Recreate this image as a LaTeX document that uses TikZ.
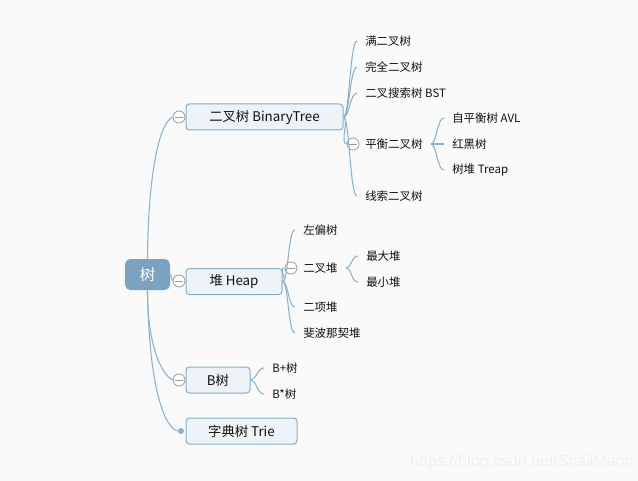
\documentclass[tikz,border=0pt]{standalone}
\usepackage{fontspec}
\setmainfont{Noto Sans CJK SC}
\newfontfamily\wmfont{Liberation Sans}
\usetikzlibrary{calc}
\definecolor{bgc}{HTML}{FAFAFA}
\definecolor{rootc}{HTML}{7BA3C1}
\definecolor{boxline}{HTML}{86AECB}
\definecolor{boxfill}{HTML}{EEF3F7}
\definecolor{linec}{HTML}{8DB2CC}
\definecolor{foldc}{HTML}{9A9A9A}
\definecolor{textc}{HTML}{111111}
\definecolor{wmc}{HTML}{EFEFEF}
\tikzset{
  mainbox/.style={draw=boxline, fill=boxfill, rounded corners=2.5pt, minimum height=19.5pt,
    font=\fontsize{10}{12}\selectfont, text=textc, inner sep=0pt, line width=0.75pt},
  rootbox/.style={fill=rootc, rounded corners=4pt, minimum width=33.75pt, minimum height=23.25pt,
    text=white, font=\fontsize{11.5}{13}\selectfont, inner sep=0pt},
  leaf/.style={anchor=west, inner xsep=6pt, inner ysep=1pt, font=\fontsize{8.6}{10}\selectfont, text=textc},
  conn/.style={draw=linec, line width=0.8pt},
  brc/.style={to path={.. controls ($(\tikztostart)+(6,0)$) and ($(\tikztotarget)+(-7,0)$) .. (\tikztotarget)}},
  foldbtn/.style={circle, draw=foldc, fill=white, minimum size=9pt, inner sep=0pt, line width=0.6pt,
    path picture={\draw[foldc, line width=0.6pt]
      ($(path picture bounding box.west)+(1.8pt,0)$) -- ($(path picture bounding box.east)+(-1.8pt,0)$);}},
  enddot/.style={circle, fill=linec, minimum size=4.5pt, inner sep=0pt}
}
\begin{document}
\begin{tikzpicture}[x=0.75pt,y=-0.75pt]
\fill[bgc] (0,0) rectangle (638,481);
\useasboundingbox (0,0) rectangle (638,481);

% main nodes
\node[rootbox] (root) at (147.5,274.5) {树};
\node[mainbox, minimum width=117.75pt] (bt) at (264.5,117) {二叉树 BinaryTree};
\node[mainbox, minimum width=72pt] (heap) at (234,281.5) {堆 Heap};
\node[mainbox, minimum width=48pt] (bn) at (218,380) {B树};
\node[mainbox, minimum width=83.25pt] (trie) at (241.5,431) {字典树 Trie};

% fold buttons
\node[foldbtn] (fbt) at (179,117) {};
\node[foldbtn] (fheap) at (179,281) {};
\node[foldbtn] (fbn) at (179,380) {};
\node[enddot] (dtrie) at (181,431) {};

% binary tree leaves
\node[leaf] (full) at (357,41) {满二叉树};
\node[leaf] (comp) at (357,67) {完全二叉树};
\node[leaf] (bst) at (357,93) {二叉搜索树 BST};
\node[leaf] (bal) at (357,144) {平衡二叉树};
\node[foldbtn] (fbal) at (353,144) {};
\node[leaf] (thr) at (357,196) {线索二叉树};
\node[leaf] (avl) at (444,118) {自平衡树 AVL};
\node[leaf] (rb) at (444,144) {红黑树};
\node[leaf] (treap) at (444,170) {树堆 Treap};

% heap leaves
\node[leaf] (left) at (295,230) {左偏树};
\node[leaf] (bh) at (295,268) {二叉堆};
\node[foldbtn] (fbh) at (291,268) {};
\node[leaf] (binom) at (295,307) {二项堆};
\node[leaf] (fib) at (295,333) {斐波那契堆};
\node[leaf] (maxh) at (358,256) {最大堆};
\node[leaf] (minh) at (358,282) {最小堆};

% B tree leaves
\node[leaf] (bplus) at (264,368) {B+树};
\node[leaf] (bstar) at (264,394) {B*树};

% root connectors
\draw[conn] (root.north) .. controls (148,180) and (158,124) .. (fbt.west);
\draw[conn] (root.east) -- (fheap.west);
\draw[conn] (root.south) .. controls (147,340) and (160,374) .. (fbn.west);
\draw[conn] (root.south) .. controls (149,390) and (165,428) .. (dtrie.west);

% binary tree connectors
\foreach \t in {full,comp,bst,thr}
  \draw[conn] (bt.east) to[brc] (\t.west);
\draw[conn] (bt.east) to[brc] (fbal.west);
\foreach \t in {avl,rb,treap}
  \draw[conn] (bal.east) to[brc] (\t.west);

% heap connectors
\foreach \t in {left,binom,fib}
  \draw[conn] (heap.east) to[brc] (\t.west);
\draw[conn] (heap.east) to[brc] (fbh.west);
\foreach \t in {maxh,minh}
  \draw[conn] (bh.east) to[brc] (\t.west);

% B tree connectors
\foreach \t in {bplus,bstar}
  \draw[conn] (bn.east) to[brc] (\t.west);

% watermark
\node[anchor=west, text=wmc, font=\wmfont\fontsize{12}{14}\selectfont, inner sep=0pt] (wm) at (410,462) {https://blog.csdn.net/SnailMann};
\end{tikzpicture}
\end{document}
